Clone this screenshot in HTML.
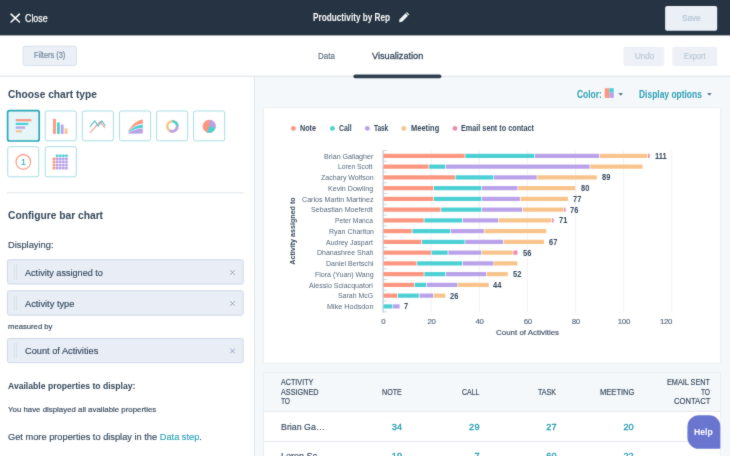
<!DOCTYPE html>
<html lang="en">
<head>
<meta charset="utf-8">
<title>Productivity by Rep</title>
<style>
*{box-sizing:border-box;margin:0;padding:0}
html,body{width:730px;height:456px;overflow:hidden;background:#f5f8fa}
body{font-family:"Liberation Sans",sans-serif;color:#33475b;position:relative;font-size:10px}
#app{position:absolute;left:0;top:0;width:730px;height:456px;overflow:hidden;background:#f5f8fa;filter:url(#soft)}
#bg{position:absolute;left:0;top:0}
.t{position:absolute;white-space:nowrap;height:20px;line-height:20px;transform-origin:0 50%}
a{color:#2b9fb5;text-decoration:none}
</style>
</head>
<body>
<svg width="0" height="0" style="position:absolute"><defs><filter id="soft" x="0" y="0" width="100%" height="100%" color-interpolation-filters="sRGB"><feConvolveMatrix order="3" kernelMatrix="1 3 1 3 26 3 1 3 1" divisor="42" edgeMode="duplicate" preserveAlpha="true"/></filter></defs></svg>
<div id="app">
<svg id="bg" width="730" height="456" viewBox="0 0 730 456">
<!-- page + panels -->
<rect x="0" y="0" width="730" height="456" fill="#f5f8fa"/>
<rect x="0" y="35" width="730" height="41.2" fill="#ffffff"/>
<rect x="0" y="76" width="254" height="380" fill="#ffffff"/>
<line x1="254.5" y1="76.6" x2="254.5" y2="456" stroke="#e0e4e9" stroke-width="1"/>
<line x1="0" y1="76.25" x2="730" y2="76.25" stroke="#d8dde3" stroke-width="0.9"/>
<rect x="0" y="0" width="730" height="35.4" fill="#253342"/>
<!-- header -->
<path d="M11.1 14.2 L19.4 22 M19.4 14.2 L11.1 22" stroke="#ffffff" stroke-width="1.6" stroke-linecap="round" fill="none"/>
<g transform="translate(398.5 12.4) scale(0.95)"><path d="M0.6 10.4 L1.2 7.2 L7.4 1 L10 3.6 L3.8 9.8 Z" fill="#f4f6f9"/><path d="M8 0.5 L8.9 -0.3 L11.3 2.1 L10.5 3 Z" fill="#f4f6f9"/></g>
<rect x="665.1" y="6.1" width="52.1" height="24.6" rx="2" fill="#eaf0f6"/>
<!-- toolbar -->
<rect x="23.2" y="46.2" width="53.2" height="19.3" rx="2" fill="#eaf0f6" stroke="#d3dbe6" stroke-width="0.8"/>
<rect x="623.4" y="46.7" width="40.8" height="19.2" rx="2" fill="#edf1f7"/>
<rect x="672.3" y="46.7" width="44.9" height="19.2" rx="2" fill="#edf1f7"/>
<rect x="353.4" y="74.6" width="88" height="3.7" rx="1.8" fill="#2d3e50"/>
<!-- tiles -->
<rect x="7.6" y="110.6" width="31.6" height="30.4" rx="2" fill="#e5f5f8" stroke="#2aa6b8" stroke-width="1.7"/>
<g fill="#ffffff" stroke="#a9dde3" stroke-width="1">
<rect x="45.2" y="111" width="31.1" height="29.8" rx="2"/>
<rect x="82.3" y="111" width="31.1" height="29.8" rx="2"/>
<rect x="119.5" y="111" width="31.1" height="29.8" rx="2"/>
<rect x="156.6" y="111" width="31.1" height="29.8" rx="2"/>
<rect x="193.6" y="111" width="31.1" height="29.8" rx="2"/>
<rect x="7.7" y="146.7" width="31.1" height="30.1" rx="2"/>
<rect x="45.2" y="146.7" width="31.1" height="30.1" rx="2"/>
</g>
<!-- horizontal bars -->
<rect x="15.8" y="119.1" width="15.6" height="2.2" fill="#fd9680"/><rect x="15.8" y="122.8" width="12.4" height="2.2" fill="#4cd0d4"/><rect x="15.8" y="126.5" width="9.3" height="2.2" fill="#b9a2e9"/><rect x="15.8" y="130.2" width="6.2" height="2.2" fill="#f8c48b"/>
<!-- columns -->
<rect x="53.1" y="118.9" width="2.8" height="15" fill="#fd9680"/><rect x="57" y="122.4" width="2.8" height="11.5" fill="#4cd0d4"/><rect x="60.8" y="124.6" width="2.8" height="9.3" fill="#b9a2e9"/><rect x="64.6" y="128.3" width="2.8" height="5.6" fill="#f8c48b"/>
<!-- lines -->
<path d="M90 133 L95.5 126.6 L100 121.6 L105 128" stroke="#fd9680" stroke-width="1.1" fill="none"/><path d="M90 126.8 L94.7 121 L98.3 126 L101.8 121 L105.4 126" stroke="#4cbfcc" stroke-width="1.1" fill="none"/>
<!-- area -->
<path d="M128.4 130.6 Q134.5 120.5 142.8 119.4 L142.8 123.6 Q135 124.3 128.4 131.4 Z" fill="#fd9680"/>
<path d="M128.4 131.8 Q135 125 142.8 124.5 L142.8 127.7 Q135.5 128 128.4 132.5 Z" fill="#4cd0d4"/>
<path d="M128.4 132.9 Q135.5 128.7 142.8 128.6 L142.8 133.5 L128.4 133.7 Z" fill="#b9a2e9"/>
<!-- donut -->
<circle cx="172.3" cy="126.3" r="5" fill="none" stroke="#f8c48b" stroke-width="2.6"/>
<path d="M172.3 121.3 A5 5 0 0 1 177.3 126.3" fill="none" stroke="#4cd0d4" stroke-width="2.6"/>
<path d="M177.3 126.3 A5 5 0 0 1 169.8 130.6" fill="none" stroke="#b9a2e9" stroke-width="2.6"/>
<!-- pie -->
<circle cx="209.2" cy="126.3" r="6.5" fill="#fd9680"/>
<path d="M209.2 126.3 L209.8 119.8 A6.5 6.5 0 0 1 215.6 127.4 Z" fill="#b9a2e9"/>
<path d="M209.2 126.3 L215.6 127.4 A6.5 6.5 0 0 1 207 132.4 Z" fill="#4cd0d4"/>
<!-- single number -->
<circle cx="23.3" cy="161.9" r="7.3" fill="none" stroke="#fd9680" stroke-width="1.1"/>
<text x="23.3" y="165" font-size="8.5" font-weight="bold" text-anchor="middle" fill="#4cb8c8" font-family="'Liberation Sans',sans-serif">1</text>
<!-- grid -->
<rect x="55.8" y="154.4" width="2.7" height="2.7" rx="0.8" fill="#4cd0d6"/><rect x="58.9" y="154.4" width="2.7" height="2.7" rx="0.8" fill="#4cd0d6"/><rect x="62.0" y="154.4" width="2.7" height="2.7" rx="0.8" fill="#4cd0d6"/><rect x="65.1" y="154.4" width="2.7" height="2.7" rx="0.8" fill="#4cd0d6"/><rect x="52.7" y="157.5" width="2.7" height="2.7" rx="0.8" fill="#ff9478"/><rect x="55.8" y="157.5" width="2.7" height="2.7" rx="0.8" fill="#b9a1e8"/><rect x="58.9" y="157.5" width="2.7" height="2.7" rx="0.8" fill="#b9a1e8"/><rect x="62.0" y="157.5" width="2.7" height="2.7" rx="0.8" fill="#b9a1e8"/><rect x="65.1" y="157.5" width="2.7" height="2.7" rx="0.8" fill="#b9a1e8"/><rect x="52.7" y="160.6" width="2.7" height="2.7" rx="0.8" fill="#ff9478"/><rect x="55.8" y="160.6" width="2.7" height="2.7" rx="0.8" fill="#b9a1e8"/><rect x="58.9" y="160.6" width="2.7" height="2.7" rx="0.8" fill="#b9a1e8"/><rect x="62.0" y="160.6" width="2.7" height="2.7" rx="0.8" fill="#b9a1e8"/><rect x="65.1" y="160.6" width="2.7" height="2.7" rx="0.8" fill="#b9a1e8"/><rect x="52.7" y="163.7" width="2.7" height="2.7" rx="0.8" fill="#ff9478"/><rect x="55.8" y="163.7" width="2.7" height="2.7" rx="0.8" fill="#b9a1e8"/><rect x="58.9" y="163.7" width="2.7" height="2.7" rx="0.8" fill="#b9a1e8"/><rect x="62.0" y="163.7" width="2.7" height="2.7" rx="0.8" fill="#b9a1e8"/><rect x="65.1" y="163.7" width="2.7" height="2.7" rx="0.8" fill="#b9a1e8"/><rect x="52.7" y="166.8" width="2.7" height="2.7" rx="0.8" fill="#ff9478"/><rect x="55.8" y="166.8" width="2.7" height="2.7" rx="0.8" fill="#b9a1e8"/><rect x="58.9" y="166.8" width="2.7" height="2.7" rx="0.8" fill="#b9a1e8"/><rect x="62.0" y="166.8" width="2.7" height="2.7" rx="0.8" fill="#b9a1e8"/><rect x="65.1" y="166.8" width="2.7" height="2.7" rx="0.8" fill="#b9a1e8"/>
<!-- left panel -->
<line x1="7" y1="192.8" x2="243.6" y2="192.8" stroke="#e0e4ea" stroke-width="1"/>
<g fill="#e9eef6" stroke="#c9d4e6" stroke-width="0.9">
<rect x="7.5" y="259.8" width="235.7" height="24.2" rx="1.8"/>
<rect x="7.5" y="290.8" width="235.7" height="24.4" rx="1.8"/>
<rect x="7.5" y="338.5" width="235.7" height="24.2" rx="1.8"/>
</g>
<g stroke="#c3cedf" stroke-width="1" stroke-dasharray="0.9 1" fill="none">
<path d="M14.3 265V280M16.6 265V280"/>
<path d="M14.3 296V311M16.6 296V311"/>
<path d="M14.3 343.5V358.5M16.6 343.5V358.5"/>
</g>
<g stroke="#8a9db5" stroke-width="0.9" fill="none">
<path d="M230.2 270.2l4.6 4.6m0-4.6l-4.6 4.6"/>
<path d="M230.2 301.2l4.6 4.6m0-4.6l-4.6 4.6"/>
<path d="M230.2 348.6l4.6 4.6m0-4.6l-4.6 4.6"/>
</g>
<!-- right controls -->
<rect x="604.7" y="88.2" width="4.6" height="9.7" fill="#fd9680"/><rect x="609.3" y="88.2" width="4.5" height="4.5" fill="#4cd0d4"/><rect x="609.3" y="92.7" width="4.5" height="5.2" fill="#b9a2e9"/>
<path d="M618.4 93h4.6l-2.3 2.7z" fill="#5d7790"/>
<path d="M707.1 93h4.6l-2.3 2.7z" fill="#5d7790"/>
<!-- cards -->
<rect x="263.1" y="107" width="457.5" height="256.7" rx="1.8" fill="#e8ebf0"/>
<rect x="263.8" y="107.7" width="456.2" height="255.2" rx="1.3" fill="#ffffff"/>
<rect x="263.1" y="372" width="457.5" height="90" fill="#e4e8ed"/>
<rect x="263.8" y="372.8" width="456.2" height="90" fill="#ffffff"/>
<rect x="263.8" y="372.8" width="456.2" height="38.3" fill="#f5f8fa"/>
<line x1="263.8" y1="411.4" x2="720" y2="411.4" stroke="#e1e6ec" stroke-width="0.9"/>
<line x1="263.8" y1="441.5" x2="720" y2="441.5" stroke="#e1e6ec" stroke-width="0.9"/>
<line x1="431.2" y1="150.5" x2="431.2" y2="312.5" stroke="#eef1f5" stroke-width="0.9"/>
<line x1="479.3" y1="150.5" x2="479.3" y2="312.5" stroke="#eef1f5" stroke-width="0.9"/>
<line x1="527.4" y1="150.5" x2="527.4" y2="312.5" stroke="#eef1f5" stroke-width="0.9"/>
<line x1="575.5" y1="150.5" x2="575.5" y2="312.5" stroke="#eef1f5" stroke-width="0.9"/>
<line x1="623.6" y1="150.5" x2="623.6" y2="312.5" stroke="#eef1f5" stroke-width="0.9"/>
<line x1="671.8" y1="150.5" x2="671.8" y2="312.5" stroke="#eef1f5" stroke-width="0.9"/>
<line x1="383.1" y1="150.3" x2="383.1" y2="312.7" stroke="#aebbd0" stroke-width="1"/>
<line x1="383.1" y1="150.5" x2="387.1" y2="150.5" stroke="#c3cedb" stroke-width="0.8"/>
<line x1="383.1" y1="161.3" x2="387.1" y2="161.3" stroke="#c3cedb" stroke-width="0.8"/>
<line x1="383.1" y1="172.0" x2="387.1" y2="172.0" stroke="#c3cedb" stroke-width="0.8"/>
<line x1="383.1" y1="182.8" x2="387.1" y2="182.8" stroke="#c3cedb" stroke-width="0.8"/>
<line x1="383.1" y1="193.5" x2="387.1" y2="193.5" stroke="#c3cedb" stroke-width="0.8"/>
<line x1="383.1" y1="204.3" x2="387.1" y2="204.3" stroke="#c3cedb" stroke-width="0.8"/>
<line x1="383.1" y1="215.0" x2="387.1" y2="215.0" stroke="#c3cedb" stroke-width="0.8"/>
<line x1="383.1" y1="225.8" x2="387.1" y2="225.8" stroke="#c3cedb" stroke-width="0.8"/>
<line x1="383.1" y1="236.5" x2="387.1" y2="236.5" stroke="#c3cedb" stroke-width="0.8"/>
<line x1="383.1" y1="247.3" x2="387.1" y2="247.3" stroke="#c3cedb" stroke-width="0.8"/>
<line x1="383.1" y1="258.0" x2="387.1" y2="258.0" stroke="#c3cedb" stroke-width="0.8"/>
<line x1="383.1" y1="268.8" x2="387.1" y2="268.8" stroke="#c3cedb" stroke-width="0.8"/>
<line x1="383.1" y1="279.5" x2="387.1" y2="279.5" stroke="#c3cedb" stroke-width="0.8"/>
<line x1="383.1" y1="290.3" x2="387.1" y2="290.3" stroke="#c3cedb" stroke-width="0.8"/>
<line x1="383.1" y1="301.0" x2="387.1" y2="301.0" stroke="#c3cedb" stroke-width="0.8"/>
<line x1="383.1" y1="311.8" x2="387.1" y2="311.8" stroke="#c3cedb" stroke-width="0.8"/>
<circle cx="293.4" cy="128.4" r="2.4" fill="#fd9680"/>
<circle cx="332.4" cy="128.4" r="2.4" fill="#4cd0d4"/>
<circle cx="367.3" cy="128.4" r="2.4" fill="#b9a2e9"/>
<circle cx="403.8" cy="128.4" r="2.4" fill="#f8c48b"/>
<circle cx="455" cy="128.4" r="2.4" fill="#ee8cb0"/>
<rect x="383.5" y="153.80" width="81.1" height="4.2" fill="#fd9680"/>
<rect x="465.3" y="153.80" width="69.0" height="4.2" fill="#4cd0d4"/>
<rect x="535.0" y="153.80" width="64.2" height="4.2" fill="#b9a2e9"/>
<rect x="599.9" y="153.80" width="47.4" height="4.2" fill="#f8c48b"/>
<rect x="648.0" y="153.80" width="1.7" height="4.2" fill="#ee8cb0"/>
<rect x="383.5" y="164.55" width="45.0" height="4.2" fill="#fd9680"/>
<rect x="429.2" y="164.55" width="16.1" height="4.2" fill="#4cd0d4"/>
<rect x="446.0" y="164.55" width="143.6" height="4.2" fill="#b9a2e9"/>
<rect x="590.3" y="164.55" width="52.2" height="4.2" fill="#f8c48b"/>
<rect x="383.5" y="175.30" width="71.4" height="4.2" fill="#fd9680"/>
<rect x="455.6" y="175.30" width="37.8" height="4.2" fill="#4cd0d4"/>
<rect x="494.1" y="175.30" width="42.6" height="4.2" fill="#b9a2e9"/>
<rect x="537.4" y="175.30" width="59.4" height="4.2" fill="#f8c48b"/>
<rect x="383.5" y="186.05" width="49.8" height="4.2" fill="#fd9680"/>
<rect x="434.0" y="186.05" width="47.4" height="4.2" fill="#4cd0d4"/>
<rect x="482.1" y="186.05" width="35.4" height="4.2" fill="#b9a2e9"/>
<rect x="518.2" y="186.05" width="57.0" height="4.2" fill="#f8c48b"/>
<rect x="383.5" y="196.80" width="49.8" height="4.2" fill="#fd9680"/>
<rect x="434.0" y="196.80" width="47.4" height="4.2" fill="#4cd0d4"/>
<rect x="482.1" y="196.80" width="37.8" height="4.2" fill="#b9a2e9"/>
<rect x="520.6" y="196.80" width="47.4" height="4.2" fill="#f8c48b"/>
<rect x="383.5" y="207.55" width="57.0" height="4.2" fill="#fd9680"/>
<rect x="441.2" y="207.55" width="40.2" height="4.2" fill="#4cd0d4"/>
<rect x="482.1" y="207.55" width="40.2" height="4.2" fill="#b9a2e9"/>
<rect x="523.0" y="207.55" width="40.2" height="4.2" fill="#f8c48b"/>
<rect x="563.9" y="207.55" width="1.7" height="4.2" fill="#ee8cb0"/>
<rect x="383.5" y="218.30" width="40.2" height="4.2" fill="#fd9680"/>
<rect x="424.4" y="218.30" width="37.8" height="4.2" fill="#4cd0d4"/>
<rect x="462.9" y="218.30" width="35.4" height="4.2" fill="#b9a2e9"/>
<rect x="498.9" y="218.30" width="52.2" height="4.2" fill="#f8c48b"/>
<rect x="551.9" y="218.30" width="1.7" height="4.2" fill="#ee8cb0"/>
<rect x="383.5" y="229.05" width="28.2" height="4.2" fill="#fd9680"/>
<rect x="412.4" y="229.05" width="37.8" height="4.2" fill="#4cd0d4"/>
<rect x="450.8" y="229.05" width="33.0" height="4.2" fill="#b9a2e9"/>
<rect x="484.5" y="229.05" width="61.8" height="4.2" fill="#f8c48b"/>
<rect x="383.5" y="239.80" width="37.8" height="4.2" fill="#fd9680"/>
<rect x="422.0" y="239.80" width="42.6" height="4.2" fill="#4cd0d4"/>
<rect x="465.3" y="239.80" width="37.8" height="4.2" fill="#b9a2e9"/>
<rect x="503.8" y="239.80" width="40.2" height="4.2" fill="#f8c48b"/>
<rect x="383.5" y="250.55" width="47.4" height="4.2" fill="#fd9680"/>
<rect x="431.6" y="250.55" width="16.1" height="4.2" fill="#4cd0d4"/>
<rect x="448.4" y="250.55" width="33.0" height="4.2" fill="#b9a2e9"/>
<rect x="482.1" y="250.55" width="30.6" height="4.2" fill="#f8c48b"/>
<rect x="513.4" y="250.55" width="4.1" height="4.2" fill="#ee8cb0"/>
<rect x="383.5" y="261.30" width="33.0" height="4.2" fill="#fd9680"/>
<rect x="417.2" y="261.30" width="45.0" height="4.2" fill="#4cd0d4"/>
<rect x="462.9" y="261.30" width="30.6" height="4.2" fill="#b9a2e9"/>
<rect x="494.1" y="261.30" width="23.3" height="4.2" fill="#f8c48b"/>
<rect x="383.5" y="272.05" width="40.2" height="4.2" fill="#fd9680"/>
<rect x="424.4" y="272.05" width="20.9" height="4.2" fill="#4cd0d4"/>
<rect x="446.0" y="272.05" width="40.2" height="4.2" fill="#b9a2e9"/>
<rect x="486.9" y="272.05" width="20.9" height="4.2" fill="#f8c48b"/>
<rect x="383.5" y="282.80" width="30.6" height="4.2" fill="#fd9680"/>
<rect x="414.8" y="282.80" width="11.3" height="4.2" fill="#4cd0d4"/>
<rect x="426.8" y="282.80" width="30.6" height="4.2" fill="#b9a2e9"/>
<rect x="458.1" y="282.80" width="30.6" height="4.2" fill="#f8c48b"/>
<rect x="383.5" y="293.55" width="13.7" height="4.2" fill="#fd9680"/>
<rect x="397.9" y="293.55" width="20.9" height="4.2" fill="#4cd0d4"/>
<rect x="419.6" y="293.55" width="13.7" height="4.2" fill="#b9a2e9"/>
<rect x="434.0" y="293.55" width="11.3" height="4.2" fill="#f8c48b"/>
<rect x="383.5" y="304.30" width="8.9" height="4.2" fill="#4cd0d4"/>
<rect x="393.1" y="304.30" width="6.5" height="4.2" fill="#b9a2e9"/>
</svg>
<div class="t" style="font-size:10.20px;color:#fff;-webkit-text-stroke:0.25px;left:25.00px;top:8.80px;transform:scaleX(0.868);">Close</div>
<div class="t" style="font-size:10.09px;color:#fff;font-weight:bold;left:313.10px;top:7.80px;transform:scaleX(0.815);">Productivity by Rep</div>
<div class="t" style="font-size:9.89px;color:#b0c1d4;-webkit-text-stroke:0.15px;left:681.50px;top:7.80px;transform:scaleX(0.830);">Save</div>
<div class="t" style="font-size:8.55px;color:#6d8199;-webkit-text-stroke:0.15px;left:34.30px;top:45.30px;transform:scaleX(0.868);">Filters (3)</div>
<div class="t" style="font-size:9.79px;color:#4a5e74;-webkit-text-stroke:0.1px;left:317.80px;top:45.80px;transform:scaleX(0.821);">Data</div>
<div class="t" style="font-size:9.79px;color:#33475b;-webkit-text-stroke:0.3px;left:372.20px;top:45.80px;transform:scaleX(0.937);">Visualization</div>
<div class="t" style="font-size:8.76px;color:#b7c5d6;-webkit-text-stroke:0.15px;left:634.60px;top:46.30px;transform:scaleX(0.926);">Undo</div>
<div class="t" style="font-size:8.76px;color:#b7c5d6;-webkit-text-stroke:0.15px;left:683.50px;top:46.30px;transform:scaleX(0.851);">Export</div>
<div class="t" style="font-size:11.33px;color:#33475b;font-weight:bold;left:8.30px;top:84.30px;transform:scaleX(0.899);">Choose chart type</div>
<div class="t" style="font-size:11.33px;color:#33475b;font-weight:bold;left:8.30px;top:205.30px;transform:scaleX(0.904);">Configure bar chart</div>
<div class="t" style="font-size:9.58px;color:#33475b;-webkit-text-stroke:0.15px;left:8.30px;top:234.80px;transform:scaleX(0.971);">Displaying:</div>
<div class="t" style="font-size:9.79px;color:#33475b;-webkit-text-stroke:0.15px;left:25.20px;top:262.80px;transform:scaleX(0.930);">Activity assigned to</div>
<div class="t" style="font-size:9.79px;color:#33475b;-webkit-text-stroke:0.15px;left:25.20px;top:293.80px;transform:scaleX(0.946);">Activity type</div>
<div class="t" style="font-size:7.83px;color:#33475b;-webkit-text-stroke:0.15px;left:8.30px;top:316.80px;transform:scaleX(0.981);">measured by</div>
<div class="t" style="font-size:9.79px;color:#33475b;-webkit-text-stroke:0.15px;left:25.20px;top:340.80px;transform:scaleX(0.942);">Count of Activities</div>
<div class="t" style="font-size:9.58px;color:#33475b;font-weight:bold;left:8.30px;top:375.80px;transform:scaleX(0.899);">Available properties to display:</div>
<div class="t" style="font-size:7.83px;color:#33475b;-webkit-text-stroke:0.15px;left:8.30px;top:399.80px;transform:scaleX(1.004);">You have displayed all available properties</div>
<div class="t" style="font-size:9.79px;color:#33475b;-webkit-text-stroke:0.15px;left:8.30px;top:426.80px;transform:scaleX(0.946);">Get more properties to display in the <a>Data step</a>.</div>
<div class="t" style="font-size:10.09px;color:#2b9fb5;font-weight:bold;left:576.60px;top:84.80px;transform:scaleX(0.839);">Color:</div>
<div class="t" style="font-size:10.09px;color:#2b9fb5;font-weight:bold;left:639.00px;top:84.80px;transform:scaleX(0.838);">Display options</div>
<div class="t" style="font-size:8.24px;color:#33475b;font-weight:bold;left:300.10px;top:118.80px;transform:scaleX(0.876);">Note</div>
<div class="t" style="font-size:8.24px;color:#33475b;font-weight:bold;left:338.80px;top:118.80px;transform:scaleX(0.837);">Call</div>
<div class="t" style="font-size:8.24px;color:#33475b;letter-spacing:-0.19px;font-weight:bold;left:373.70px;top:118.80px;transform:scaleX(0.800);">Task</div>
<div class="t" style="font-size:8.24px;color:#33475b;font-weight:bold;left:410.80px;top:118.80px;transform:scaleX(0.907);">Meeting</div>
<div class="t" style="font-size:8.24px;color:#33475b;font-weight:bold;left:461.30px;top:118.80px;transform:scaleX(0.881);">Email sent to contact</div>
<div class="t" style="font-size:7.83px;color:#56677b;-webkit-text-stroke:0px;left:323.50px;top:146.80px;transform:scaleX(0.907);">Brian Gallagher</div>
<div class="t" style="font-size:8.14px;color:#33475b;font-weight:bold;left:654.50px;top:146.80px;transform:scaleX(0.920);">111</div>
<div class="t" style="font-size:7.83px;color:#56677b;-webkit-text-stroke:0px;left:338.10px;top:156.80px;transform:scaleX(0.858);">Loren Scott</div>
<div class="t" style="font-size:7.83px;color:#56677b;-webkit-text-stroke:0px;left:320.90px;top:167.80px;transform:scaleX(0.898);">Zachary Wolfson</div>
<div class="t" style="font-size:8.14px;color:#33475b;font-weight:bold;left:601.90px;top:167.80px;transform:scaleX(0.920);">89</div>
<div class="t" style="font-size:7.83px;color:#56677b;-webkit-text-stroke:0px;left:328.40px;top:178.80px;transform:scaleX(0.909);">Kevin Dowling</div>
<div class="t" style="font-size:8.14px;color:#33475b;font-weight:bold;left:580.60px;top:178.80px;transform:scaleX(0.920);">80</div>
<div class="t" style="font-size:7.83px;color:#56677b;-webkit-text-stroke:0px;left:301.70px;top:189.80px;transform:scaleX(0.908);">Carlos Martin Martinez</div>
<div class="t" style="font-size:8.14px;color:#33475b;font-weight:bold;left:573.20px;top:189.80px;transform:scaleX(0.920);">77</div>
<div class="t" style="font-size:7.83px;color:#56677b;-webkit-text-stroke:0px;left:310.70px;top:199.80px;transform:scaleX(0.910);">Sebastian Moeferdt</div>
<div class="t" style="font-size:8.14px;color:#33475b;font-weight:bold;left:570.40px;top:200.80px;transform:scaleX(0.920);">76</div>
<div class="t" style="font-size:7.83px;color:#56677b;-webkit-text-stroke:0px;left:334.70px;top:210.80px;transform:scaleX(0.854);">Peter Manca</div>
<div class="t" style="font-size:8.14px;color:#33475b;font-weight:bold;left:558.70px;top:210.80px;transform:scaleX(0.920);">71</div>
<div class="t" style="font-size:7.83px;color:#56677b;-webkit-text-stroke:0px;left:328.50px;top:221.80px;transform:scaleX(0.899);">Ryan Charlton</div>
<div class="t" style="font-size:7.83px;color:#56677b;-webkit-text-stroke:0px;left:325.60px;top:232.80px;transform:scaleX(0.890);">Audrey Jaspart</div>
<div class="t" style="font-size:8.14px;color:#33475b;font-weight:bold;left:549.10px;top:232.80px;transform:scaleX(0.920);">67</div>
<div class="t" style="font-size:7.83px;color:#56677b;-webkit-text-stroke:0px;left:317.10px;top:242.80px;transform:scaleX(0.894);">Dhanashree Shah</div>
<div class="t" style="font-size:8.14px;color:#33475b;font-weight:bold;left:522.50px;top:243.80px;transform:scaleX(0.920);">56</div>
<div class="t" style="font-size:7.83px;color:#56677b;-webkit-text-stroke:0px;left:325.60px;top:253.80px;transform:scaleX(0.900);">Daniel Bertschi</div>
<div class="t" style="font-size:7.83px;color:#56677b;-webkit-text-stroke:0px;left:315.00px;top:264.80px;transform:scaleX(0.895);">Flora (Yuan) Wang</div>
<div class="t" style="font-size:8.14px;color:#33475b;font-weight:bold;left:513.30px;top:264.80px;transform:scaleX(0.920);">52</div>
<div class="t" style="font-size:7.83px;color:#56677b;-webkit-text-stroke:0px;left:309.20px;top:275.80px;transform:scaleX(0.905);">Alessio Sciacquatori</div>
<div class="t" style="font-size:8.14px;color:#33475b;font-weight:bold;left:493.30px;top:275.80px;transform:scaleX(0.920);">44</div>
<div class="t" style="font-size:7.83px;color:#56677b;-webkit-text-stroke:0px;left:338.20px;top:285.80px;transform:scaleX(0.885);">Sarah McG</div>
<div class="t" style="font-size:8.14px;color:#33475b;font-weight:bold;left:450.30px;top:286.80px;transform:scaleX(0.920);">26</div>
<div class="t" style="font-size:7.83px;color:#56677b;-webkit-text-stroke:0px;left:327.10px;top:296.80px;transform:scaleX(0.928);">Mike Hodsdon</div>
<div class="t" style="font-size:8.14px;color:#33475b;font-weight:bold;left:403.90px;top:296.80px;transform:scaleX(0.920);">7</div>
<div class="t" style="font-size:7.83px;color:#55677c;-webkit-text-stroke:0.15px;left:381.35px;top:311.80px;transform:scaleX(1.000);">0</div>
<div class="t" style="font-size:7.83px;color:#55677c;letter-spacing:-0.30px;-webkit-text-stroke:0.15px;left:427.43px;top:311.80px;transform:scaleX(1.000);">20</div>
<div class="t" style="font-size:7.83px;color:#55677c;letter-spacing:-0.30px;-webkit-text-stroke:0.15px;left:475.53px;top:311.80px;transform:scaleX(1.000);">40</div>
<div class="t" style="font-size:7.83px;color:#55677c;letter-spacing:-0.30px;-webkit-text-stroke:0.15px;left:523.63px;top:311.80px;transform:scaleX(1.000);">60</div>
<div class="t" style="font-size:7.83px;color:#55677c;letter-spacing:-0.30px;-webkit-text-stroke:0.15px;left:571.73px;top:311.80px;transform:scaleX(1.000);">80</div>
<div class="t" style="font-size:7.83px;color:#55677c;letter-spacing:-0.30px;-webkit-text-stroke:0.15px;left:617.81px;top:311.80px;transform:scaleX(1.000);">100</div>
<div class="t" style="font-size:7.83px;color:#55677c;letter-spacing:-0.30px;-webkit-text-stroke:0.15px;left:659.96px;top:311.80px;transform:scaleX(1.000);">120</div>
<div class="t" style="font-size:8.03px;color:#3f5166;-webkit-text-stroke:0.15px;left:495.90px;top:322.80px;transform:scaleX(0.990);">Count of Activities</div>
<div class="t" style="font-size:8.03px;color:#33475b;font-weight:bold;left:254.3px;top:221.0px;width:77.8px;text-align:center;transform-origin:50% 50%;transform:rotate(-90deg) scaleX(0.889);">Activity assigned to</div>
<div class="t" style="font-size:8.34px;color:#33475b;-webkit-text-stroke:0.15px;left:280.60px;top:372.30px;transform:scaleX(0.862);">ACTIVITY</div>
<div class="t" style="font-size:8.34px;color:#33475b;-webkit-text-stroke:0.15px;left:280.60px;top:382.30px;transform:scaleX(0.874);">ASSIGNED</div>
<div class="t" style="font-size:8.34px;color:#33475b;letter-spacing:-0.31px;-webkit-text-stroke:0.15px;left:280.60px;top:391.30px;transform:scaleX(0.800);">TO</div>
<div class="t" style="font-size:8.34px;color:#33475b;-webkit-text-stroke:0.15px;left:381.90px;top:382.30px;transform:scaleX(0.857);">NOTE</div>
<div class="t" style="font-size:8.34px;color:#33475b;-webkit-text-stroke:0.15px;left:461.60px;top:382.30px;transform:scaleX(0.840);">CALL</div>
<div class="t" style="font-size:8.34px;color:#33475b;-webkit-text-stroke:0.15px;left:538.00px;top:382.30px;transform:scaleX(0.857);">TASK</div>
<div class="t" style="font-size:8.34px;color:#33475b;-webkit-text-stroke:0.15px;left:599.50px;top:382.30px;transform:scaleX(0.908);">MEETING</div>
<div class="t" style="font-size:8.34px;color:#33475b;-webkit-text-stroke:0.15px;left:666.90px;top:372.30px;transform:scaleX(0.874);">EMAIL SENT</div>
<div class="t" style="font-size:8.34px;color:#33475b;letter-spacing:-0.31px;-webkit-text-stroke:0.15px;left:700.80px;top:382.30px;transform:scaleX(0.800);">TO</div>
<div class="t" style="font-size:8.34px;color:#33475b;-webkit-text-stroke:0.15px;left:673.80px;top:391.30px;transform:scaleX(0.918);">CONTACT</div>
<div class="t" style="font-size:9.58px;color:#33475b;-webkit-text-stroke:0.15px;left:280.60px;top:416.80px;transform:scaleX(0.924);">Brian Ga…</div>
<div class="t" style="font-size:9.17px;color:#2a9cb1;letter-spacing:0.21px;-webkit-text-stroke:0.35px;left:391.80px;top:417.30px;transform:scaleX(1.000);">34</div>
<div class="t" style="font-size:9.17px;color:#2a9cb1;letter-spacing:0.21px;-webkit-text-stroke:0.35px;left:469.10px;top:417.30px;transform:scaleX(1.000);">29</div>
<div class="t" style="font-size:9.17px;color:#2a9cb1;letter-spacing:0.21px;-webkit-text-stroke:0.35px;left:546.20px;top:417.30px;transform:scaleX(1.000);">27</div>
<div class="t" style="font-size:9.17px;color:#2a9cb1;letter-spacing:-0.09px;-webkit-text-stroke:0.35px;left:623.50px;top:417.30px;transform:scaleX(1.000);">20</div>
<div class="t" style="font-size:9.17px;color:#2a9cb1;-webkit-text-stroke:0.35px;left:704.90px;top:417.30px;transform:scaleX(1.000);">1</div>
<div class="t" style="font-size:9.58px;color:#33475b;-webkit-text-stroke:0.15px;left:280.60px;top:445.80px;transform:scaleX(0.943);">Loren Sc…</div>
<div class="t" style="font-size:9.17px;color:#2a9cb1;letter-spacing:0.21px;-webkit-text-stroke:0.35px;left:391.80px;top:446.30px;transform:scaleX(1.000);">19</div>
<div class="t" style="font-size:9.17px;color:#2a9cb1;-webkit-text-stroke:0.35px;left:474.40px;top:446.30px;transform:scaleX(1.000);">7</div>
<div class="t" style="font-size:9.17px;color:#2a9cb1;letter-spacing:0.21px;-webkit-text-stroke:0.35px;left:546.20px;top:446.30px;transform:scaleX(1.000);">60</div>
<div class="t" style="font-size:9.17px;color:#2a9cb1;letter-spacing:-0.09px;-webkit-text-stroke:0.35px;left:623.50px;top:446.30px;transform:scaleX(1.000);">22</div>
<svg style="position:absolute;left:680px;top:410px" width="50" height="46" viewBox="680 410 50 46"><path d="M698.9 415.2h10.4a11 11 0 0 1 11 11v21.6a1 1 0 0 1 -1 1h-20.4a11.5 11.5 0 0 1 -11.5 -11.5v-10.6a11.5 11.5 0 0 1 11.5 -11.5z" fill="#6a75d0"/></svg>
<div class="t" style="left:693.6px;top:422px;font-size:9.3px;font-weight:bold;color:#fff;transform:scaleX(0.93)">Help</div>
</div>
</body>
</html>
